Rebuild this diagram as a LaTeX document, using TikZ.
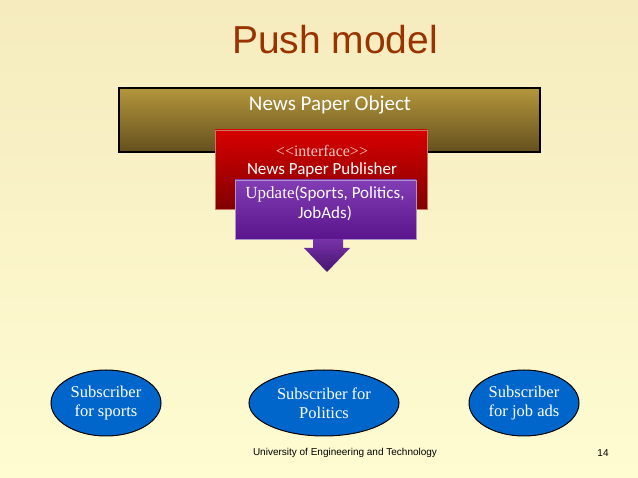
\documentclass[tikz,border=0pt]{standalone}
\usepackage{fontspec}
\usetikzlibrary{shapes.geometric}
\setmainfont{Liberation Serif}
\newfontfamily\arialf{Liberation Sans}
\newfontfamily\calf{Carlito}
\begin{document}
\begin{tikzpicture}[x=1pt,y=-1pt,
  ell/.style={draw=black,line width=1pt,ellipse,fill={rgb,255:red,0;green,102;blue,204},text=white,align=center,font=\fontsize{16.5}{19}\selectfont,inner sep=0pt},
  lab/.style={text=white,align=center}]
\useasboundingbox (0,0) rectangle (638,478);
\shade[top color={rgb,255:red,245;green,235;blue,190},bottom color={rgb,255:red,255;green,252;blue,210}] (0,0) rectangle (638,478);
\node[text={rgb,255:red,153;green,51;blue,0},font=\arialf\fontsize{39}{42}\selectfont] (title) at (335,40) {Push model};
\shade[top color={rgb,255:red,180;green,150;blue,60},bottom color={rgb,255:red,100;green,80;blue,30}] (119,88) rectangle (540,152);
\draw[line width=1.2pt] (119,88) rectangle (540,152);
\node[lab,font=\calf\fontsize{21}{23}\selectfont] (obj) at (330,105) {News Paper Object};
\shade[top color={rgb,255:red,215;green,0;blue,0},bottom color={rgb,255:red,130;green,0;blue,0}] (215,130) rectangle (427,209);
\draw[draw={rgb,255:red,200;green,120;blue,100},line width=0.8pt] (215,130) rectangle (427,209);
\node[text={rgb,255:red,255;green,200;blue,200},font=\fontsize{16}{18}\selectfont] (iface) at (322,151) {{<}{<}interface{>}{>}};
\node[lab,font=\calf\fontsize{17}{19}\selectfont] (pub) at (322,170) {News Paper Publisher};
\shade[top color={rgb,255:red,130;green,60;blue,180},bottom color={rgb,255:red,90;green,20;blue,140}] (235,180) rectangle (416,239);
\draw[draw={rgb,255:red,170;green,150;blue,200},line width=0.8pt] (235,180) rectangle (416,239);
\node[lab,font=\calf\fontsize{17}{20}\selectfont] (upd) at (325,203) {{\fontspec{Liberation Serif}Update}(Sports, Politics,\\JobAds)};
\shade[top color={rgb,255:red,120;green,50;blue,170},bottom color={rgb,255:red,70;green,20;blue,110}] (313,239) -- (343,239) -- (343,248) -- (350,248) -- (327,272) -- (304,248) -- (313,248) -- cycle;
\node[ell,minimum width=110,minimum height=66] (s1) at (106,403) {Subscriber\\for sports};
\node[ell,minimum width=150,minimum height=66] (s2) at (324,403) {Subscriber for\\Politics};
\node[ell,minimum width=110,minimum height=66] (s3) at (524,403) {Subscriber\\for job ads};
\node[font=\arialf\fontsize{10}{12}\selectfont] (foot) at (345,453) {University of Engineering and Technology};
\node[font=\arialf\fontsize{10}{12}\selectfont] (pg) at (603,453) {14};
\end{tikzpicture}
\end{document}
